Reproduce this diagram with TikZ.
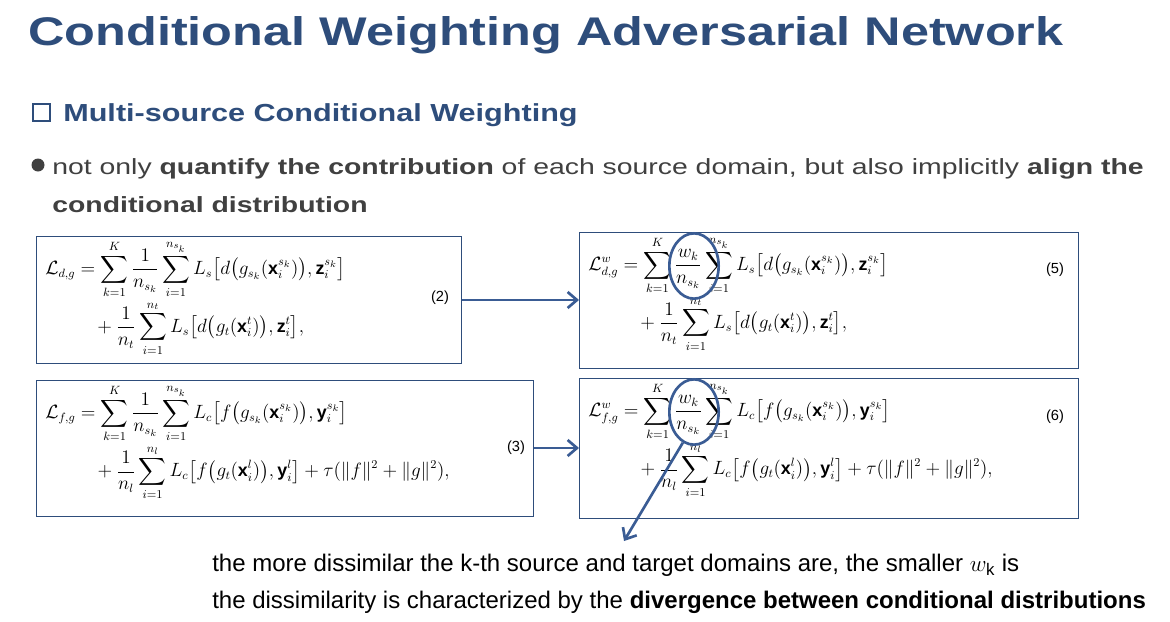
\documentclass[tikz,border=0pt]{standalone}
\usepackage{amsmath}
\usepackage{fontspec}
\setmainfont{Liberation Sans}
\usetikzlibrary{arrows.meta,shapes.geometric}
\definecolor{ttl}{HTML}{2E4D7B}
\definecolor{arr}{HTML}{3A5C94}
\definecolor{gtx}{HTML}{404040}
\begin{document}
\begin{tikzpicture}[x=0.75pt,y=-0.75pt,
  eqbox/.style={draw=ttl,line width=0.8pt},
  eq/.style={anchor=north west,inner sep=0pt,font=\fontsize{13.4}{15}\selectfont},
  lbl/.style={font=\fontsize{11}{13}\selectfont},
  bigarrow/.style={draw=arr,line width=2pt,-{Straight Barb[length=7pt,width=12pt]}},
  ring/.style={draw=arr,line width=2pt}]
\useasboundingbox (0,0) rectangle (1170,621);
\node[anchor=base west,inner sep=0pt,text=ttl,font=\fontsize{30}{32}\bfseries\selectfont,xscale=1.26] (title) at (28,45) {Conditional Weighting Adversarial Network};
\draw[ttl,line width=1.8pt] (33,104) rectangle (50,121);
\node[anchor=base west,inner sep=0pt,text=ttl,font=\fontsize{18.5}{20}\bfseries\selectfont,xscale=1.24] (sub) at (63,121) {Multi-source Conditional Weighting};
\fill[gtx] (38,165) circle (6.5);
\node[anchor=base west,inner sep=0pt,text=gtx,font=\fontsize{16.5}{18}\selectfont,xscale=1.29] (b1) at (52,174) {not only \textbf{quantify the contribution} of each source domain, but also implicitly \textbf{align the}};
\node[anchor=base west,inner sep=0pt,text=gtx,font=\fontsize{16.5}{18}\selectfont,xscale=1.29] (b2) at (52,212) {\textbf{conditional distribution}};
% boxes
\node[eqbox,minimum width=319pt,minimum height=95pt,anchor=north west] (box1) at (36,236) {};
\node[eqbox,minimum width=374pt,minimum height=102pt,anchor=north west] (box2) at (579,232) {};
\node[eqbox,minimum width=373pt,minimum height=102pt,anchor=north west] (box3) at (36,380) {};
\node[eqbox,minimum width=374pt,minimum height=105pt,anchor=north west] (box4) at (579,378) {};
\node[eq] (e1) at (45,240) {$\begin{aligned}\mathcal{L}_{d,g}&=\sum_{k=1}^{K}\frac{1}{n_{s_k}}\sum_{i=1}^{n_{s_k}}L_s\big[d\big(g_{s_k}(\mathbf{x}_i^{s_k})\big),\mathbf{z}_i^{s_k}\big]\\[-2pt]&\quad+\frac{1}{n_t}\sum_{i=1}^{n_t}L_s\big[d\big(g_t(\mathbf{x}_i^{t})\big),\mathbf{z}_i^{t}\big],\end{aligned}$};
\node[eq] (e2) at (588,236) {$\begin{aligned}\mathcal{L}^w_{d,g}&=\sum_{k=1}^{K}\frac{w_k}{n_{s_k}}\sum_{i=1}^{n_{s_k}}L_s\big[d\big(g_{s_k}(\mathbf{x}_i^{s_k})\big),\mathbf{z}_i^{s_k}\big]\\[-2pt]&\quad+\frac{1}{n_t}\sum_{i=1}^{n_t}L_s\big[d\big(g_t(\mathbf{x}_i^{t})\big),\mathbf{z}_i^{t}\big],\end{aligned}$};
\node[eq] (e3) at (45,384) {$\begin{aligned}\mathcal{L}_{f,g}&=\sum_{k=1}^{K}\frac{1}{n_{s_k}}\sum_{i=1}^{n_{s_k}}L_c\big[f\big(g_{s_k}(\mathbf{x}_i^{s_k})\big),\mathbf{y}_i^{s_k}\big]\\[-2pt]&\quad+\frac{1}{n_l}\sum_{i=1}^{n_l}L_c\big[f\big(g_t(\mathbf{x}_i^{l})\big),\mathbf{y}_i^{l}\big]+\tau(\|f\|^2+\|g\|^2),\end{aligned}$};
\node[eq] (e4) at (588,382) {$\begin{aligned}\mathcal{L}^w_{f,g}&=\sum_{k=1}^{K}\frac{w_k}{n_{s_k}}\sum_{i=1}^{n_{s_k}}L_c\big[f\big(g_{s_k}(\mathbf{x}_i^{s_k})\big),\mathbf{y}_i^{s_k}\big]\\[-2pt]&\quad+\frac{1}{n_l}\sum_{i=1}^{n_l}L_c\big[f\big(g_t(\mathbf{x}_i^{l})\big),\mathbf{y}_i^{l}\big]+\tau(\|f\|^2+\|g\|^2),\end{aligned}$};
\node[lbl] (n2) at (440,298) {(2)};
\node[lbl] (n3) at (516,448) {(3)};
\node[lbl] (n5) at (1055,270) {(5)};
\node[lbl] (n6) at (1055,417) {(6)};
\draw[bigarrow] (box1.east |- 0,300) -- (box2.west |- 0,300);
\draw[bigarrow] (box3.east |- 0,448) -- (box4.west |- 0,448);
\node[ring,ellipse,minimum width=37pt,minimum height=49pt,inner sep=0pt] (r1) at (694,266) {};
\node[ring,ellipse,minimum width=37pt,minimum height=49pt,inner sep=0pt] (r2) at (694,412) {};
\coordinate (tip) at (624,541);
\draw[bigarrow] (r2.-110) -- (tip);
\node[anchor=base west,inner sep=0pt,font=\fontsize{18}{20}\selectfont] (t1) at (212,571) {the more dissimilar the k-th source and target domains are, the smaller $w_{\mathrm{k}}$ is};
\node[anchor=base west,inner sep=0pt,font=\fontsize{18}{20}\selectfont] (t2) at (212,608) {the dissimilarity is characterized by the \textbf{divergence between conditional distributions}};
\end{tikzpicture}
\end{document}
